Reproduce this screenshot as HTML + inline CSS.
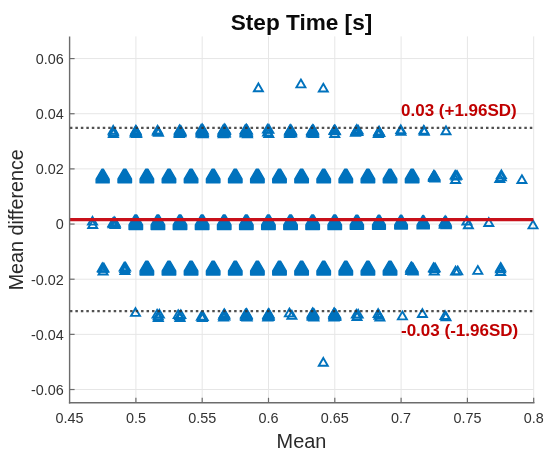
<!DOCTYPE html>
<html lang="en">
<head>
<meta charset="utf-8">
<title>Step Time [s]</title>
<style>
html,body{margin:0;padding:0;background:#fff;}
body{width:550px;height:455px;overflow:hidden;font-family:"Liberation Sans",Arial,sans-serif;}
svg{display:block;}
</style>
</head>
<body>
<svg width="550" height="455" viewBox="0 0 550 455" role="img" aria-label="Bland-Altman plot of step time">
<rect width="550" height="455" fill="#fff"/>
<g stroke="#e6e6e6" stroke-width="1" fill="none">
<line x1="135.90" y1="36.4" x2="135.90" y2="402.8"/>
<line x1="202.20" y1="36.4" x2="202.20" y2="402.8"/>
<line x1="268.50" y1="36.4" x2="268.50" y2="402.8"/>
<line x1="334.80" y1="36.4" x2="334.80" y2="402.8"/>
<line x1="401.10" y1="36.4" x2="401.10" y2="402.8"/>
<line x1="467.40" y1="36.4" x2="467.40" y2="402.8"/>
<line x1="533.70" y1="36.4" x2="533.70" y2="402.8"/>
<line x1="69.6" y1="58.57" x2="533.7" y2="58.57"/>
<line x1="69.6" y1="113.73" x2="533.7" y2="113.73"/>
<line x1="69.6" y1="168.89" x2="533.7" y2="168.89"/>
<line x1="69.6" y1="224.05" x2="533.7" y2="224.05"/>
<line x1="69.6" y1="279.21" x2="533.7" y2="279.21"/>
<line x1="69.6" y1="334.37" x2="533.7" y2="334.37"/>
<line x1="69.6" y1="389.53" x2="533.7" y2="389.53"/>
</g>
<g fill="none" stroke="#0072BD" stroke-width="1.9" stroke-linejoin="miter">
<path d="M113.20,126.00l4.5,7.75h-9z"/>
<path d="M113.50,127.60l4.5,7.75h-9z"/>
<path d="M113.40,129.30l4.5,7.75h-9z"/>
<path d="M135.81,125.80l4.5,7.75h-9z"/>
<path d="M136.13,126.52l4.5,7.75h-9z"/>
<path d="M135.40,127.24l4.5,7.75h-9z"/>
<path d="M136.48,127.96l4.5,7.75h-9z"/>
<path d="M135.12,128.68l4.5,7.75h-9z"/>
<path d="M136.61,129.40l4.5,7.75h-9z"/>
<path d="M157.56,125.80l4.5,7.75h-9z"/>
<path d="M157.42,126.95l4.5,7.75h-9z"/>
<path d="M158.46,128.10l4.5,7.75h-9z"/>
<polygon fill="#0072BD" stroke="none" points="179.71,125.84 180.31,125.84 185.21,134.22 185.21,136.60 174.81,136.60 174.81,134.22"/>
<path d="M179.59,125.40l4.5,7.75h-9z"/>
<path d="M180.74,126.03l4.5,7.75h-9z"/>
<path d="M179.26,126.67l4.5,7.75h-9z"/>
<path d="M180.98,127.30l4.5,7.75h-9z"/>
<path d="M179.19,127.93l4.5,7.75h-9z"/>
<path d="M180.91,128.57l4.5,7.75h-9z"/>
<path d="M179.33,129.20l4.5,7.75h-9z"/>
<polygon fill="#0072BD" stroke="none" points="201.82,124.94 202.42,124.94 207.52,133.66 207.52,137.00 196.72,137.00 196.72,133.66"/>
<path d="M202.20,124.50l4.5,7.75h-9z"/>
<path d="M201.07,125.14l4.5,7.75h-9z"/>
<path d="M203.24,125.77l4.5,7.75h-9z"/>
<path d="M201.22,126.41l4.5,7.75h-9z"/>
<path d="M203.17,127.05l4.5,7.75h-9z"/>
<path d="M200.96,127.69l4.5,7.75h-9z"/>
<path d="M203.28,128.32l4.5,7.75h-9z"/>
<path d="M201.26,128.96l4.5,7.75h-9z"/>
<path d="M203.17,129.60l4.5,7.75h-9z"/>
<polygon fill="#0072BD" stroke="none" points="223.92,124.94 224.52,124.94 229.72,133.83 229.72,137.00 218.72,137.00 218.72,133.83"/>
<path d="M224.26,124.50l4.5,7.75h-9z"/>
<path d="M225.34,125.14l4.5,7.75h-9z"/>
<path d="M223.00,125.77l4.5,7.75h-9z"/>
<path d="M225.48,126.41l4.5,7.75h-9z"/>
<path d="M222.98,127.05l4.5,7.75h-9z"/>
<path d="M225.23,127.69l4.5,7.75h-9z"/>
<path d="M222.95,128.32l4.5,7.75h-9z"/>
<path d="M225.26,128.96l4.5,7.75h-9z"/>
<path d="M223.24,129.60l4.5,7.75h-9z"/>
<polygon fill="#0072BD" stroke="none" points="246.03,125.14 246.63,125.14 251.73,133.86 251.73,136.90 240.93,136.90 240.93,133.86"/>
<path d="M246.39,124.70l4.5,7.75h-9z"/>
<path d="M245.23,125.30l4.5,7.75h-9z"/>
<path d="M247.42,125.90l4.5,7.75h-9z"/>
<path d="M245.19,126.50l4.5,7.75h-9z"/>
<path d="M247.23,127.10l4.5,7.75h-9z"/>
<path d="M245.14,127.70l4.5,7.75h-9z"/>
<path d="M247.35,128.30l4.5,7.75h-9z"/>
<path d="M245.24,128.90l4.5,7.75h-9z"/>
<path d="M247.43,129.50l4.5,7.75h-9z"/>
<path d="M267.50,124.90l4.5,7.75h-9z"/>
<path d="M268.90,125.00l4.5,7.75h-9z"/>
<path d="M267.60,127.80l4.5,7.75h-9z"/>
<path d="M268.80,129.20l4.5,7.75h-9z"/>
<polygon fill="#0072BD" stroke="none" points="290.24,125.54 290.84,125.54 295.84,134.09 295.84,136.70 285.24,136.70 285.24,134.09"/>
<path d="M290.74,125.10l4.5,7.75h-9z"/>
<path d="M289.79,125.70l4.5,7.75h-9z"/>
<path d="M291.49,126.30l4.5,7.75h-9z"/>
<path d="M289.50,126.90l4.5,7.75h-9z"/>
<path d="M291.58,127.50l4.5,7.75h-9z"/>
<path d="M289.63,128.10l4.5,7.75h-9z"/>
<path d="M291.50,128.70l4.5,7.75h-9z"/>
<path d="M289.68,129.30l4.5,7.75h-9z"/>
<polygon fill="#0072BD" stroke="none" points="312.35,125.54 312.95,125.54 317.95,134.09 317.95,136.70 307.35,136.70 307.35,134.09"/>
<path d="M312.80,125.10l4.5,7.75h-9z"/>
<path d="M313.53,125.70l4.5,7.75h-9z"/>
<path d="M311.65,126.30l4.5,7.75h-9z"/>
<path d="M313.39,126.90l4.5,7.75h-9z"/>
<path d="M311.66,127.50l4.5,7.75h-9z"/>
<path d="M313.51,128.10l4.5,7.75h-9z"/>
<path d="M311.70,128.70l4.5,7.75h-9z"/>
<path d="M313.43,129.30l4.5,7.75h-9z"/>
<polygon fill="#0072BD" stroke="none" points="334.45,126.14 335.05,126.14 339.65,133.90 339.65,133.90 329.85,133.90 329.85,133.90"/>
<path d="M334.55,125.70l4.5,7.75h-9z"/>
<path d="M334.20,125.90l4.5,7.75h-9z"/>
<path d="M335.26,126.10l4.5,7.75h-9z"/>
<path d="M334.20,126.30l4.5,7.75h-9z"/>
<path d="M335.35,126.50l4.5,7.75h-9z"/>
<path d="M334.75,129.30l4.5,7.75h-9z"/>
<path d="M356.74,125.10l4.5,7.75h-9z"/>
<path d="M358.14,125.85l4.5,7.75h-9z"/>
<path d="M355.87,126.60l4.5,7.75h-9z"/>
<path d="M357.85,127.35l4.5,7.75h-9z"/>
<path d="M355.42,128.10l4.5,7.75h-9z"/>
<path d="M379.09,126.70l4.5,7.75h-9z"/>
<path d="M378.54,127.53l4.5,7.75h-9z"/>
<path d="M379.84,128.37l4.5,7.75h-9z"/>
<path d="M378.33,129.20l4.5,7.75h-9z"/>
<path d="M400.80,125.40l4.5,7.75h-9z"/>
<path d="M401.00,127.10l4.5,7.75h-9z"/>
<path d="M423.80,125.90l4.5,7.75h-9z"/>
<path d="M424.30,127.00l4.5,7.75h-9z"/>
<path d="M446.00,126.50l4.5,7.75h-9z"/>
<polygon fill="#0072BD" stroke="#0072BD" stroke-width="1.4" stroke-linejoin="round" points="101.84,169.30 103.44,169.30 109.14,179.04 109.14,182.90 96.14,182.90 96.14,179.04"/>
<polygon fill="#0072BD" stroke="#0072BD" stroke-width="1.4" stroke-linejoin="round" points="123.70,169.10 125.80,169.10 131.50,178.84 131.50,182.80 118.00,182.80 118.00,178.84"/>
<polygon fill="#0072BD" stroke="#0072BD" stroke-width="1.4" stroke-linejoin="round" points="145.80,169.10 147.90,169.10 153.60,178.84 153.60,182.80 140.10,182.80 140.10,178.84"/>
<polygon fill="#0072BD" stroke="#0072BD" stroke-width="1.4" stroke-linejoin="round" points="167.91,169.10 170.01,169.10 175.71,178.84 175.71,182.80 162.21,182.80 162.21,178.84"/>
<polygon fill="#0072BD" stroke="#0072BD" stroke-width="1.4" stroke-linejoin="round" points="190.01,169.10 192.12,169.10 197.81,178.84 197.81,182.80 184.31,182.80 184.31,178.84"/>
<polygon fill="#0072BD" stroke="#0072BD" stroke-width="1.4" stroke-linejoin="round" points="212.12,169.10 214.22,169.10 219.92,178.84 219.92,182.80 206.42,182.80 206.42,178.84"/>
<polygon fill="#0072BD" stroke="#0072BD" stroke-width="1.4" stroke-linejoin="round" points="234.23,169.10 236.33,169.10 242.03,178.84 242.03,182.80 228.53,182.80 228.53,178.84"/>
<polygon fill="#0072BD" stroke="#0072BD" stroke-width="1.4" stroke-linejoin="round" points="256.33,169.10 258.43,169.10 264.13,178.84 264.13,182.80 250.63,182.80 250.63,178.84"/>
<polygon fill="#0072BD" stroke="#0072BD" stroke-width="1.4" stroke-linejoin="round" points="278.44,169.10 280.54,169.10 286.24,178.84 286.24,182.80 272.74,182.80 272.74,178.84"/>
<polygon fill="#0072BD" stroke="#0072BD" stroke-width="1.4" stroke-linejoin="round" points="300.55,169.10 302.65,169.10 308.35,178.84 308.35,182.80 294.85,182.80 294.85,178.84"/>
<polygon fill="#0072BD" stroke="#0072BD" stroke-width="1.4" stroke-linejoin="round" points="322.65,169.10 324.75,169.10 330.45,178.84 330.45,182.80 316.95,182.80 316.95,178.84"/>
<polygon fill="#0072BD" stroke="#0072BD" stroke-width="1.4" stroke-linejoin="round" points="344.76,169.10 346.86,169.10 352.56,178.84 352.56,182.80 339.06,182.80 339.06,178.84"/>
<polygon fill="#0072BD" stroke="#0072BD" stroke-width="1.4" stroke-linejoin="round" points="366.86,169.10 368.96,169.10 374.66,178.84 374.66,182.80 361.16,182.80 361.16,178.84"/>
<polygon fill="#0072BD" stroke="#0072BD" stroke-width="1.4" stroke-linejoin="round" points="388.97,169.10 391.07,169.10 396.77,178.84 396.77,182.80 383.27,182.80 383.27,178.84"/>
<polygon fill="#0072BD" stroke="#0072BD" stroke-width="1.4" stroke-linejoin="round" points="411.08,169.10 413.18,169.10 418.88,178.84 418.88,182.80 405.38,182.80 405.38,178.84"/>
<polygon fill="#0072BD" stroke="none" points="433.93,171.24 434.53,171.24 439.23,179.27 439.23,181.30 429.23,181.30 429.23,179.27"/>
<path d="M433.95,170.80l4.5,7.75h-9z"/>
<path d="M433.66,171.32l4.5,7.75h-9z"/>
<path d="M434.99,171.83l4.5,7.75h-9z"/>
<path d="M433.56,172.35l4.5,7.75h-9z"/>
<path d="M434.83,172.87l4.5,7.75h-9z"/>
<path d="M433.62,173.38l4.5,7.75h-9z"/>
<path d="M434.90,173.90l4.5,7.75h-9z"/>
<path d="M455.20,170.90l4.5,7.75h-9z"/>
<path d="M457.00,171.10l4.5,7.75h-9z"/>
<path d="M456.00,171.70l4.5,7.75h-9z"/>
<path d="M455.50,175.30l4.5,7.75h-9z"/>
<path d="M501.40,170.40l4.5,7.75h-9z"/>
<path d="M501.30,172.60l4.5,7.75h-9z"/>
<path d="M499.80,174.30l4.5,7.75h-9z"/>
<path d="M521.90,175.30l4.5,7.75h-9z"/>
<path d="M92.50,216.90l4.5,7.75h-9z"/>
<path d="M92.70,220.30l4.5,7.75h-9z"/>
<path d="M114.11,217.40l4.5,7.75h-9z"/>
<path d="M114.97,217.96l4.5,7.75h-9z"/>
<path d="M112.82,218.52l4.5,7.75h-9z"/>
<path d="M115.32,219.08l4.5,7.75h-9z"/>
<path d="M113.10,219.64l4.5,7.75h-9z"/>
<path d="M115.09,220.20l4.5,7.75h-9z"/>
<polygon fill="#0072BD" stroke="#0072BD" stroke-width="1.4" stroke-linejoin="round" points="134.75,215.00 136.85,215.00 142.55,224.74 142.55,229.50 129.05,229.50 129.05,224.74"/>
<polygon fill="#0072BD" stroke="#0072BD" stroke-width="1.4" stroke-linejoin="round" points="156.86,215.00 158.96,215.00 164.66,224.74 164.66,229.50 151.16,229.50 151.16,224.74"/>
<polygon fill="#0072BD" stroke="#0072BD" stroke-width="1.4" stroke-linejoin="round" points="178.96,215.00 181.06,215.00 186.76,224.74 186.76,229.50 173.26,229.50 173.26,224.74"/>
<polygon fill="#0072BD" stroke="#0072BD" stroke-width="1.4" stroke-linejoin="round" points="201.07,215.00 203.17,215.00 208.87,224.74 208.87,229.50 195.37,229.50 195.37,224.74"/>
<polygon fill="#0072BD" stroke="#0072BD" stroke-width="1.4" stroke-linejoin="round" points="223.17,215.00 225.27,215.00 230.97,224.74 230.97,229.50 217.47,229.50 217.47,224.74"/>
<polygon fill="#0072BD" stroke="#0072BD" stroke-width="1.4" stroke-linejoin="round" points="245.28,215.00 247.38,215.00 253.08,224.74 253.08,229.50 239.58,229.50 239.58,224.74"/>
<polygon fill="#0072BD" stroke="#0072BD" stroke-width="1.4" stroke-linejoin="round" points="267.39,215.00 269.49,215.00 275.19,224.74 275.19,229.50 261.69,229.50 261.69,224.74"/>
<polygon fill="#0072BD" stroke="#0072BD" stroke-width="1.4" stroke-linejoin="round" points="289.49,215.00 291.59,215.00 297.29,224.74 297.29,229.50 283.79,229.50 283.79,224.74"/>
<polygon fill="#0072BD" stroke="#0072BD" stroke-width="1.4" stroke-linejoin="round" points="311.60,215.00 313.70,215.00 319.40,224.74 319.40,229.50 305.90,229.50 305.90,224.74"/>
<polygon fill="#0072BD" stroke="#0072BD" stroke-width="1.4" stroke-linejoin="round" points="333.70,215.00 335.80,215.00 341.50,224.74 341.50,229.50 328.00,229.50 328.00,224.74"/>
<polygon fill="#0072BD" stroke="#0072BD" stroke-width="1.4" stroke-linejoin="round" points="355.96,215.10 357.76,215.10 363.46,224.84 363.46,229.30 350.26,229.30 350.26,224.84"/>
<polygon fill="#0072BD" stroke="#0072BD" stroke-width="1.4" stroke-linejoin="round" points="378.27,215.10 379.67,215.10 385.37,224.84 385.37,229.30 372.57,229.30 372.57,224.84"/>
<polygon fill="#0072BD" stroke="#0072BD" stroke-width="1.4" stroke-linejoin="round" points="400.47,215.20 401.67,215.20 407.37,224.94 407.37,229.10 394.77,229.10 394.77,224.94"/>
<polygon fill="#0072BD" stroke="#0072BD" stroke-width="1.4" stroke-linejoin="round" points="422.78,215.40 423.58,215.40 429.28,225.14 429.28,228.90 417.08,228.90 417.08,225.14"/>
<polygon fill="#0072BD" stroke="none" points="444.98,216.94 445.58,216.94 450.48,225.32 450.48,227.90 440.08,227.90 440.08,225.32"/>
<path d="M445.18,216.50l4.5,7.75h-9z"/>
<path d="M446.00,217.07l4.5,7.75h-9z"/>
<path d="M444.32,217.64l4.5,7.75h-9z"/>
<path d="M446.15,218.21l4.5,7.75h-9z"/>
<path d="M444.45,218.79l4.5,7.75h-9z"/>
<path d="M446.18,219.36l4.5,7.75h-9z"/>
<path d="M444.34,219.93l4.5,7.75h-9z"/>
<path d="M446.17,220.50l4.5,7.75h-9z"/>
<path d="M466.90,216.70l4.5,7.75h-9z"/>
<path d="M468.40,220.50l4.5,7.75h-9z"/>
<path d="M488.80,218.20l4.5,7.75h-9z"/>
<path d="M533.00,220.60l4.5,7.75h-9z"/>
<path d="M102.30,263.50l4.5,7.75h-9z"/>
<path d="M103.90,263.70l4.5,7.75h-9z"/>
<path d="M103.10,264.10l4.5,7.75h-9z"/>
<path d="M103.10,266.70l4.5,7.75h-9z"/>
<circle cx="103.10" cy="269.40" r="1.0" fill="#0072BD" stroke="none"/>
<path d="M124.20,262.80l4.5,7.75h-9z"/>
<path d="M125.60,262.90l4.5,7.75h-9z"/>
<path d="M124.90,264.30l4.5,7.75h-9z"/>
<path d="M124.90,266.20l4.5,7.75h-9z"/>
<polygon fill="#0072BD" stroke="#0072BD" stroke-width="1.4" stroke-linejoin="round" points="145.80,261.10 147.90,261.10 153.60,270.84 153.60,275.00 140.10,275.00 140.10,270.84"/>
<polygon fill="#0072BD" stroke="#0072BD" stroke-width="1.4" stroke-linejoin="round" points="167.91,261.10 170.01,261.10 175.71,270.84 175.71,275.00 162.21,275.00 162.21,270.84"/>
<polygon fill="#0072BD" stroke="#0072BD" stroke-width="1.4" stroke-linejoin="round" points="190.01,261.10 192.12,261.10 197.81,270.84 197.81,275.00 184.31,275.00 184.31,270.84"/>
<polygon fill="#0072BD" stroke="#0072BD" stroke-width="1.4" stroke-linejoin="round" points="212.12,261.10 214.22,261.10 219.92,270.84 219.92,275.00 206.42,275.00 206.42,270.84"/>
<polygon fill="#0072BD" stroke="#0072BD" stroke-width="1.4" stroke-linejoin="round" points="234.23,261.10 236.33,261.10 242.03,270.84 242.03,275.00 228.53,275.00 228.53,270.84"/>
<polygon fill="#0072BD" stroke="#0072BD" stroke-width="1.4" stroke-linejoin="round" points="256.33,261.10 258.43,261.10 264.13,270.84 264.13,275.00 250.63,275.00 250.63,270.84"/>
<polygon fill="#0072BD" stroke="#0072BD" stroke-width="1.4" stroke-linejoin="round" points="278.44,261.10 280.54,261.10 286.24,270.84 286.24,275.00 272.74,275.00 272.74,270.84"/>
<polygon fill="#0072BD" stroke="#0072BD" stroke-width="1.4" stroke-linejoin="round" points="300.55,261.10 302.65,261.10 308.35,270.84 308.35,275.00 294.85,275.00 294.85,270.84"/>
<polygon fill="#0072BD" stroke="#0072BD" stroke-width="1.4" stroke-linejoin="round" points="322.65,261.10 324.75,261.10 330.45,270.84 330.45,275.00 316.95,275.00 316.95,270.84"/>
<polygon fill="#0072BD" stroke="#0072BD" stroke-width="1.4" stroke-linejoin="round" points="344.76,261.10 346.86,261.10 352.56,270.84 352.56,275.00 339.06,275.00 339.06,270.84"/>
<polygon fill="#0072BD" stroke="#0072BD" stroke-width="1.4" stroke-linejoin="round" points="366.86,261.10 368.96,261.10 374.66,270.84 374.66,275.00 361.16,275.00 361.16,270.84"/>
<polygon fill="#0072BD" stroke="#0072BD" stroke-width="1.4" stroke-linejoin="round" points="388.97,261.10 391.07,261.10 396.77,270.84 396.77,275.00 383.27,275.00 383.27,270.84"/>
<polygon fill="#0072BD" stroke="none" points="411.70,263.04 412.30,263.04 417.50,271.93 417.50,274.10 406.50,274.10 406.50,271.93"/>
<path d="M411.61,262.60l4.5,7.75h-9z"/>
<path d="M410.88,263.11l4.5,7.75h-9z"/>
<path d="M412.89,263.62l4.5,7.75h-9z"/>
<path d="M410.74,264.14l4.5,7.75h-9z"/>
<path d="M412.93,264.65l4.5,7.75h-9z"/>
<path d="M410.95,265.16l4.5,7.75h-9z"/>
<path d="M413.20,265.68l4.5,7.75h-9z"/>
<path d="M410.74,266.19l4.5,7.75h-9z"/>
<path d="M413.11,266.70l4.5,7.75h-9z"/>
<path d="M433.50,263.50l4.5,7.75h-9z"/>
<path d="M435.10,263.60l4.5,7.75h-9z"/>
<path d="M434.30,264.20l4.5,7.75h-9z"/>
<path d="M434.30,266.70l4.5,7.75h-9z"/>
<circle cx="434.30" cy="269.40" r="1.0" fill="#0072BD" stroke="none"/>
<path d="M455.60,266.70l4.5,7.75h-9z"/>
<path d="M457.70,266.60l4.5,7.75h-9z"/>
<path d="M477.80,266.10l4.5,7.75h-9z"/>
<path d="M500.70,263.10l4.5,7.75h-9z"/>
<path d="M500.50,264.50l4.5,7.75h-9z"/>
<path d="M500.60,267.20l4.5,7.75h-9z"/>
<path d="M135.50,308.15l4.5,7.75h-9z"/>
<path d="M157.10,309.80l4.5,7.75h-9z"/>
<path d="M159.40,309.90l4.5,7.75h-9z"/>
<path d="M158.20,311.60l4.5,7.75h-9z"/>
<path d="M158.30,313.20l4.5,7.75h-9z"/>
<path d="M178.20,310.30l4.5,7.75h-9z"/>
<path d="M180.80,310.30l4.5,7.75h-9z"/>
<path d="M179.60,311.60l4.5,7.75h-9z"/>
<path d="M180.00,313.20l4.5,7.75h-9z"/>
<path d="M201.40,312.00l4.5,7.75h-9z"/>
<path d="M203.20,312.20l4.5,7.75h-9z"/>
<path d="M202.30,313.20l4.5,7.75h-9z"/>
<path d="M224.21,309.30l4.5,7.75h-9z"/>
<path d="M224.73,310.15l4.5,7.75h-9z"/>
<path d="M223.53,311.00l4.5,7.75h-9z"/>
<path d="M224.90,311.85l4.5,7.75h-9z"/>
<path d="M223.59,312.70l4.5,7.75h-9z"/>
<polygon fill="#0072BD" stroke="none" points="246.03,309.54 246.63,309.54 251.53,317.92 251.53,320.30 241.13,320.30 241.13,317.92"/>
<path d="M246.50,309.10l4.5,7.75h-9z"/>
<path d="M245.46,309.73l4.5,7.75h-9z"/>
<path d="M247.18,310.37l4.5,7.75h-9z"/>
<path d="M245.51,311.00l4.5,7.75h-9z"/>
<path d="M247.27,311.63l4.5,7.75h-9z"/>
<path d="M245.64,312.27l4.5,7.75h-9z"/>
<path d="M247.08,312.90l4.5,7.75h-9z"/>
<polygon fill="#0072BD" stroke="none" points="268.14,309.54 268.74,309.54 273.44,317.57 273.44,320.30 263.44,320.30 263.44,317.57"/>
<path d="M268.50,309.10l4.5,7.75h-9z"/>
<path d="M269.10,309.73l4.5,7.75h-9z"/>
<path d="M267.79,310.37l4.5,7.75h-9z"/>
<path d="M269.17,311.00l4.5,7.75h-9z"/>
<path d="M267.80,311.63l4.5,7.75h-9z"/>
<path d="M269.00,312.27l4.5,7.75h-9z"/>
<path d="M267.74,312.90l4.5,7.75h-9z"/>
<path d="M289.40,308.60l4.5,7.75h-9z"/>
<path d="M291.90,311.00l4.5,7.75h-9z"/>
<polygon fill="#0072BD" stroke="none" points="312.70,308.84 313.30,308.84 318.20,317.22 318.20,320.20 307.80,320.20 307.80,317.22"/>
<path d="M312.69,308.40l4.5,7.75h-9z"/>
<path d="M313.81,309.03l4.5,7.75h-9z"/>
<path d="M312.11,309.66l4.5,7.75h-9z"/>
<path d="M313.72,310.29l4.5,7.75h-9z"/>
<path d="M312.05,310.91l4.5,7.75h-9z"/>
<path d="M313.74,311.54l4.5,7.75h-9z"/>
<path d="M312.30,312.17l4.5,7.75h-9z"/>
<path d="M313.81,312.80l4.5,7.75h-9z"/>
<polygon fill="#0072BD" stroke="none" points="334.45,308.84 335.05,308.84 339.95,317.22 339.95,320.30 329.55,320.30 329.55,317.22"/>
<path d="M334.26,308.40l4.5,7.75h-9z"/>
<path d="M333.86,309.04l4.5,7.75h-9z"/>
<path d="M335.59,309.69l4.5,7.75h-9z"/>
<path d="M333.79,310.33l4.5,7.75h-9z"/>
<path d="M335.73,310.97l4.5,7.75h-9z"/>
<path d="M333.87,311.61l4.5,7.75h-9z"/>
<path d="M335.67,312.26l4.5,7.75h-9z"/>
<path d="M333.91,312.90l4.5,7.75h-9z"/>
<path d="M356.40,309.90l4.5,7.75h-9z"/>
<path d="M358.20,309.90l4.5,7.75h-9z"/>
<path d="M357.00,312.20l4.5,7.75h-9z"/>
<path d="M378.15,309.20l4.5,7.75h-9z"/>
<path d="M379.00,311.00l4.5,7.75h-9z"/>
<path d="M379.90,312.90l4.5,7.75h-9z"/>
<path d="M402.40,311.60l4.5,7.75h-9z"/>
<path d="M422.40,309.20l4.5,7.75h-9z"/>
<path d="M445.00,311.20l4.5,7.75h-9z"/>
<path d="M446.00,312.60l4.5,7.75h-9z"/>
<path d="M258.40,83.50l4.5,7.75h-9z"/>
<path d="M300.90,79.60l4.5,7.75h-9z"/>
<path d="M323.30,83.80l4.5,7.75h-9z"/>
<path d="M323.30,357.95l4.5,7.75h-9z"/>
</g>
<line x1="69.9" y1="127.9" x2="533" y2="127.9" stroke="#333" stroke-opacity="0.85" stroke-width="2.4" stroke-dasharray="2.5 2.975"/>
<line x1="69.9" y1="311.1" x2="533" y2="311.1" stroke="#333" stroke-opacity="0.85" stroke-width="2.4" stroke-dasharray="2.5 2.975"/>
<line x1="69.6" y1="219.6" x2="533.4" y2="219.6" stroke="#C8101A" stroke-width="3.3"/>
<g stroke="#6c6c6c" stroke-width="1.4" fill="none">
<line x1="69.6" y1="36.4" x2="69.6" y2="403.5"/>
<line x1="68.89999999999999" y1="402.8" x2="534.45" y2="402.8"/>
</g>
<g stroke="#6c6c6c" stroke-width="1.2" fill="none">
<line x1="135.90" y1="402.8" x2="135.90" y2="397.8"/>
<line x1="202.20" y1="402.8" x2="202.20" y2="397.8"/>
<line x1="268.50" y1="402.8" x2="268.50" y2="397.8"/>
<line x1="334.80" y1="402.8" x2="334.80" y2="397.8"/>
<line x1="401.10" y1="402.8" x2="401.10" y2="397.8"/>
<line x1="467.40" y1="402.8" x2="467.40" y2="397.8"/>
<line x1="533.70" y1="402.8" x2="533.70" y2="397.8"/>
<line x1="69.6" y1="58.57" x2="74.6" y2="58.57"/>
<line x1="69.6" y1="113.73" x2="74.6" y2="113.73"/>
<line x1="69.6" y1="168.89" x2="74.6" y2="168.89"/>
<line x1="69.6" y1="224.05" x2="74.6" y2="224.05"/>
<line x1="69.6" y1="279.21" x2="74.6" y2="279.21"/>
<line x1="69.6" y1="334.37" x2="74.6" y2="334.37"/>
<line x1="69.6" y1="389.53" x2="74.6" y2="389.53"/>
</g>
<g font-family="'Liberation Sans', Arial, Helvetica, sans-serif" fill="#333" font-size="14.4">
<text x="69.60" y="423.15" text-anchor="middle">0.45</text>
<text x="135.90" y="423.15" text-anchor="middle">0.5</text>
<text x="202.20" y="423.15" text-anchor="middle">0.55</text>
<text x="268.50" y="423.15" text-anchor="middle">0.6</text>
<text x="334.80" y="423.15" text-anchor="middle">0.65</text>
<text x="401.10" y="423.15" text-anchor="middle">0.7</text>
<text x="467.40" y="423.15" text-anchor="middle">0.75</text>
<text x="533.70" y="423.15" text-anchor="middle">0.8</text>
<text x="63.7" y="63.92" text-anchor="end">0.06</text>
<text x="63.7" y="119.08" text-anchor="end">0.04</text>
<text x="63.7" y="174.24" text-anchor="end">0.02</text>
<text x="63.7" y="229.40" text-anchor="end">0</text>
<text x="63.7" y="284.56" text-anchor="end">-0.02</text>
<text x="63.7" y="339.72" text-anchor="end">-0.04</text>
<text x="63.7" y="394.88" text-anchor="end">-0.06</text>
</g>
<text font-family="'Liberation Sans', Arial, Helvetica, sans-serif" x="301.5" y="29.7" font-size="22.6" font-weight="bold" fill="#0a0a0a" text-anchor="middle">Step Time [s]</text>
<text font-family="'Liberation Sans', Arial, Helvetica, sans-serif" x="301.5" y="447.6" font-size="19.9" fill="#2a2a2a" text-anchor="middle">Mean</text>
<text font-family="'Liberation Sans', Arial, Helvetica, sans-serif" transform="translate(22.7 219.8) rotate(-90) scale(1 1.05)" font-size="19.75" fill="#2a2a2a" text-anchor="middle">Mean difference</text>
<text font-family="'Liberation Sans', Arial, Helvetica, sans-serif" x="401" y="116" font-size="17" font-weight="bold" fill="#C00000">0.03 (+1.96SD)</text>
<text font-family="'Liberation Sans', Arial, Helvetica, sans-serif" x="401" y="336.2" font-size="17" font-weight="bold" fill="#C00000">-0.03 (-1.96SD)</text>
</svg>
</body>
</html>
